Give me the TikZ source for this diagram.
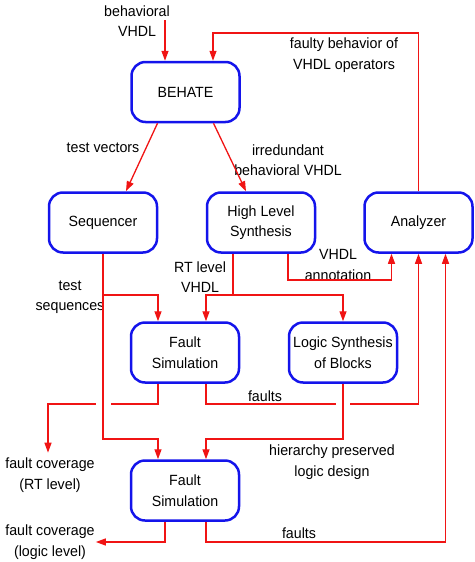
\documentclass[tikz,border=0pt]{standalone}
\usepackage{fontspec}
\setmainfont{Liberation Sans}[FakeStretch=0.96]
\usetikzlibrary{arrows.meta,calc}
\definecolor{boxblue}{RGB}{20,20,235}
\definecolor{linered}{RGB}{240,20,20}
\begin{document}
\begin{tikzpicture}[x=1pt,y=-1pt]
\tikzset{
 blk/.style={draw=boxblue, line width=2.5pt, rounded corners=14pt, minimum width=108pt, minimum height=60pt, align=center, font=\fontsize{14.8}{20.5}\selectfont, inner sep=2pt},
 lbl/.style={align=center, font=\fontsize{14.8}{20.5}\selectfont, inner sep=1pt},
 wire/.style={draw=linered, line width=1.3pt},
 arr/.style={wire, -{Triangle[length=10pt,width=7pt]}},
}
\useasboundingbox (0,0) rectangle (474,562);
% boxes
\node[blk] (beh) at (185.5,92) {BEHATE};
\node[blk] (seq) at (103,222.5) {Sequencer};
\node[blk] (hls) at (261,222.5) {High Level\\Synthesis};
\node[blk] (ana) at (418.5,222.5) {Analyzer};
\node[blk] (fs1) at (185,352.5) {Fault\\Simulation};
\node[blk] (lsb) at (343,352.5) {Logic Synthesis\\of Blocks};
\node[blk] (fs2) at (185,490.5) {Fault\\Simulation};
% text labels
\node[lbl] (inl) at (137,21) {behavioral\\VHDL};
\node[lbl] at (344,55) {faulty behavior of\\VHDL operators};
\node[lbl] at (103,148) {test vectors};
\node[lbl] at (288,160) {irredundant\\behavioral VHDL};
\node[lbl] at (70,297) {test\\sequences};
\node[lbl] at (200,277) {RT level\\VHDL};
\node[lbl] at (338,265) {VHDL\\annotation};
\node[lbl] at (265,396) {faults};
\node[lbl] at (332,462) {hierarchy preserved\\logic design};
\node[lbl] (cov1) at (50,475) {fault coverage\\(RT level)};
\node[lbl] (cov2) at (50,542) {fault coverage\\(logic level)};
\node[lbl] at (299,533) {faults};
% helper coordinates
\coordinate (inp) at (165,20);
\coordinate (fbk) at (213,33);
\coordinate (fsa) at ($(fs1.north)+(-27,0)$);
\coordinate (fsb) at ($(fs1.north)+(21,0)$);
\coordinate (fsc) at ($(fs1.south)+(-27,0)$);
\coordinate (fsd) at ($(fs1.south)+(21,0)$);
\coordinate (fta) at ($(fs2.north)+(-27,0)$);
\coordinate (ftb) at ($(fs2.north)+(21,0)$);
\coordinate (ftc) at ($(fs2.south)+(-20,0)$);
\coordinate (ftd) at ($(fs2.south)+(21,0)$);
\coordinate (hlsA) at ($(hls.south)+(-28,0)$);
\coordinate (hlsB) at ($(hls.south)+(27,0)$);
\coordinate (anaA) at ($(ana.south)+(-27,0)$);
\coordinate (anaB) at ($(ana.south)+(27,0)$);
% connectors
\draw[arr] (inp) -- (inp |- beh.north);
\draw[arr] (ana.north) |- (fbk) -- (fbk |- beh.north);
\draw[arr] ($(beh.south)+(-28,0)$) -- ($(seq.north)+(23,0)$);
\draw[arr] ($(beh.south)+(28,0)$) -- ($(hls.north)+(-15,0)$);
\draw[arr] (seq.south) |- (fsa |- 0,295) -- (fsa);
\draw[arr] (seq.south) |- (fta |- 0,439) -- (fta);
\draw[arr] (hlsA) |- (fsb |- 0,295) -- (fsb);
\draw[arr] (hlsA |- 0,295) -| (lsb.north);
\draw[arr] (hlsB) |- (anaA |- 0,280) -- (anaA);
\draw[wire] (fsc) |- ($(seq.south |- 0,404)+(7.5,0)$);
\draw[arr] ($(seq.south |- 0,404)+(-7.5,0)$) -| ($(cov1.north)+(-2,-4)$);
\draw[wire] (fsd) |- ($(lsb.south |- 0,404)+(-7,0)$);
\draw[arr] ($(lsb.south |- 0,404)+(7,0)$) -| (ana.south);
\draw[arr] (lsb.south) |- (ftb |- 0,439) -- (ftb);
\draw[arr] (ftc) |- (cov2.east);
\draw[arr] (ftd) |- (anaB |- 0,542) -- (anaB);
\end{tikzpicture}
\end{document}
